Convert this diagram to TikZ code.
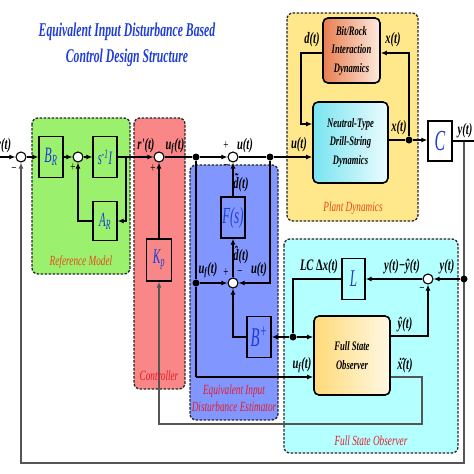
\documentclass[tikz,border=0pt]{standalone}
\usepackage{fontspec}
\setmainfont{Liberation Serif}
\newfontfamily\labf{Liberation Serif}[FakeStretch=0.66]
\newfontfamily\titf{Liberation Serif}[FakeStretch=0.6]
\newfontfamily\blkf{Liberation Serif}[FakeStretch=0.55]
\usetikzlibrary{arrows.meta}
\definecolor{gfill}{RGB}{155,240,110}
\definecolor{rfill}{RGB}{250,135,135}
\definecolor{bfill}{RGB}{130,150,255}
\definecolor{yfill}{RGB}{255,232,140}
\definecolor{cfill}{RGB}{180,255,255}
\definecolor{btext}{RGB}{30,60,215}
\definecolor{rtext}{RGB}{225,30,40}
\definecolor{otext}{RGB}{230,75,20}
\definecolor{loopgray}{RGB}{85,85,85}
\definecolor{orL}{RGB}{232,125,80}
\definecolor{orR}{RGB}{253,235,222}
\definecolor{cyL}{RGB}{120,228,240}
\definecolor{cyR}{RGB}{235,252,255}
\definecolor{obL}{RGB}{255,218,120}
\definecolor{obR}{RGB}{255,248,228}
\newcommand\Lf{\labf\bfseries\itshape\fontsize{16}{18}\selectfont}
\newcommand\Rf{\labf\itshape\fontsize{14}{17}\selectfont}
\newcommand\Bf{\labf\bfseries\itshape\fontsize{13}{18.5}\selectfont}
\newcommand\Sf{\labf\fontsize{14}{14}\selectfont}
\begin{document}
\begin{tikzpicture}[x=1pt,y=-1pt,
  region/.style={draw=black!85, dash pattern=on 2.5pt off 1.5pt, line width=1.3pt, rounded corners=6pt},
  blk/.style={draw=black, line width=1.4pt, minimum width=24pt, minimum height=41pt, inner sep=0pt,
     font=\blkf\itshape\fontsize{#1}{#1}\selectfont, text=btext},
  bigblk/.style={draw=black, line width=1.6pt, rounded corners=5pt, inner sep=0pt, align=center, font=\Bf},
  sumj/.style={circle, draw, line width=1.1pt, fill=white, minimum size=10pt, inner sep=0pt},
  dotj/.style={circle, fill=black, minimum size=7pt, inner sep=0pt},
  lab/.style={font=\Lf, inner sep=1pt},
  sgn/.style={font=\Sf, inner sep=0pt},
  rlab/.style={font=\Rf, inner sep=0pt, align=center},
  wire/.style={line width=1.4pt},
  sig/.style={line width=1.4pt, -{Latex[length=6pt,width=5pt]}},
  gsig/.style={line width=1.4pt, draw=loopgray, -{Latex[length=6pt,width=5pt]}}]
\useasboundingbox (0,0) rectangle (474,474);
% title
\node[font=\titf\bfseries\itshape\fontsize{19.5}{26}\selectfont, text=btext, align=center] (title) at (127,45)
  {Equivalent Input Disturbance Based\\Control Design Structure};
% regions
\draw[region, fill=gfill] (32,118) rectangle (130,274);
\draw[region, fill=rfill] (134,118) rectangle (185,389);
\draw[region, fill=bfill] (190,165) rectangle (278,420);
\draw[region, fill=yfill] (287,13) rectangle (418,221);
\draw[region, fill=cfill] (284,239) rectangle (458,453);
% outer loop (drawn before the dot on it)
\coordinate (fb1) at (464,141);
\coordinate (fb2) at (464,463);
\coordinate (fb3) at (21,463);
\draw[line width=1.4pt, loopgray] (fb1) -- (fb2) -- (fb3) -- (21,200);
% blocks
\node[sumj] (s1) at (21,157) {};
\node[blk=22, fill=gfill] (BR) at (51,157) {B\textsubscript{R}};
\node[sumj] (s2) at (78,157) {};
\node[blk=19, fill=gfill] (sI) at (105,157) {s\textsuperscript{-1}I};
\node[blk=20, fill=gfill, minimum height=39pt] (AR) at (105,221) {A\textsubscript{R}};
\node[sumj] (s3) at (159,157) {};
\node[blk=21, fill=rfill, minimum width=25pt, minimum height=42pt] (Kp) at (159,260) {K\textsubscript{p}};
\node[dotj] (d1) at (196,157) {};
\node[sumj] (s4) at (233,157) {};
\node[dotj] (d2) at (270,157) {};
\node[blk=23, fill=bfill] (F) at (233,217.5) {F(s)};
\node[sumj] (s5) at (233,283) {};
\node[dotj] (d3) at (196,283) {};
\node[blk=27, fill=bfill] (Bp) at (259,337) {B\textsuperscript{+}};
\node[dotj] (d5) at (293,337) {};
\node[bigblk, left color=obL, right color=obR, minimum width=76pt, minimum height=79pt] (Obs) at (352,355.5) {Full State\\Observer};
\node[blk=24, fill=cfill, minimum width=23pt] (L) at (353.5,279) {L};
\node[sumj] (s6) at (428,279) {};
\node[dotj] (d6) at (464,279) {};
\node[bigblk, left color=orL, right color=orR, minimum width=57pt, minimum height=65pt] (BitRock) at (351.5,50.5) {Bit/Rock\\Interaction\\Dynamics};
\node[bigblk, left color=cyL, right color=cyR, minimum width=75pt, minimum height=81pt] (Neutral) at (350.5,142.5) {Neutral-Type\\Drill-String\\Dynamics};
\node[dotj] (d4) at (409,140) {};
\node[blk=29, fill=white, minimum height=40pt] (C) at (440,141) {C};
% connectors
\coordinate (rin) at (0,157);
\draw[sig] (rin) -- (s1);
\draw[gsig] (21,200) -- (s1.south);
\draw[sig] (s1) -- (BR);
\draw[sig] (BR) -- (s2);
\draw[sig] (s2) -- (sI);
\draw[sig] (sI) -- (s3);
\coordinate (br1) at (126,157);
\draw[sig] (br1) |- (AR.east);
\draw[sig] (AR.west) -| (s2.south);
\draw[sig] (Kp) -- (s3);
\draw[wire] (s3) -- (d1);
\draw[sig] (d1) -- (s4);
\draw[wire] (s4) -- (d2);
\draw[sig] (d2) -- (Neutral.west |- d2);
\draw[sig] (F) -- (s4);
\draw[sig] (s5) -- (F);
\draw[wire] (d1) -- (d3);
\draw[sig] (d3) -- (s5);
\coordinate (uf) at (196,377);
\draw[wire] (d3) -- (uf);
\draw[sig] (uf) -- (Obs.west |- uf);
\coordinate (c270) at (270,283);
\draw[sig] (d2) -- (c270) -- (s5);
\draw[sig] (Bp.west) -| (s5.south);
\draw[sig] (d5) -- (Bp);
\draw[sig] (d5) -- (Obs.west |- d5);
\draw[wire] (L.west) -| (d5);
\draw[sig] (s6) -- (L);
\draw[sig] (d6) -- (s6);
\draw[sig] ([yshift=19.5pt]Obs.east) -| (s6.south);
\coordinate (k1) at (422,424);
\draw[gsig] ([yshift=-21.5pt]Obs.east) -| (k1) -| (Kp.south);
\draw[wire] ([yshift=2.5pt]Neutral.east) -- (d4);
\draw[sig] (d4) -- (C.west |- d4);
\coordinate (xt) at (409,53);
\draw[sig] (d4) -- (xt) -- (BitRock.east |- xt);
\coordinate (dt) at (301,53);
\draw[sig] (BitRock.west |- xt) -- (dt) |- ([yshift=18.5pt]Neutral.west);
\coordinate (yend) at (474,141);
\draw[wire] (C) -- (yend);
% signal labels
\node[lab] (lr) at (4,146) {r(t)};
\node[sgn] (m1) at (14,170) {−};
\node[sgn] (p2) at (73,168) {+};
\node[lab] (lrp) at (146,146) {r'(t)};
\node[sgn] (p3) at (153,169) {+};
\node[lab] (luf) at (175,146) {u\textsubscript{f}(t)};
\node[sgn] (p4) at (226,146) {+};
\node[lab] (lu1) at (245,146) {u(t)};
\node[sgn] (m4) at (226,167) {−};
\node[lab] (ldt) at (241,183) {d̃(t)};
\node[lab] (ldh) at (241,255) {d̂(t)};
\node[lab] (luf2) at (208,270) {u\textsubscript{f}(t)};
\node[sgn] (p5) at (226,273) {+};
\node[sgn] (m5) at (240,273) {−};
\node[lab] (lu2) at (259,270) {u(t)};
\node[lab] (lu3) at (299,145) {u(t)};
\node[lab] (ld) at (312,40) {d(t)};
\node[lab] (lx1) at (393,40) {x(t)};
\node[lab] (lx2) at (399,128) {x(t)};
\node[lab] (ly) at (465,131) {y(t)};
\node[lab] (lLC) at (319,267) {LC {\upshape Δ}x(t)};
\node[lab] (lyy) at (402,267) {y(t)−ŷ(t)};
\node[lab] (ly2) at (447,267) {y(t)};
\node[sgn] (m6) at (422,290) {−};
\node[lab] (lyh) at (405,325) {ŷ(t)};
\node[lab] (lxh) at (405,366) {ẋ̂(t)};
\node[lab] (luf3) at (302,365) {u\textsubscript{f}(t)};
% region labels
\node[rlab, text=otext] (tref) at (81,262) {Reference Model};
\node[rlab, text=rtext] (tctl) at (159,376) {Controller};
\node[rlab, text=rtext] (teid) at (234,398) {Equivalent Input\\Disturbance Estimator};
\node[rlab, text=otext] (tpl) at (353,208) {Plant Dynamics};
\node[rlab, text=rtext] (tobs) at (371,441) {Full State Observer};
\end{tikzpicture}
\end{document}
